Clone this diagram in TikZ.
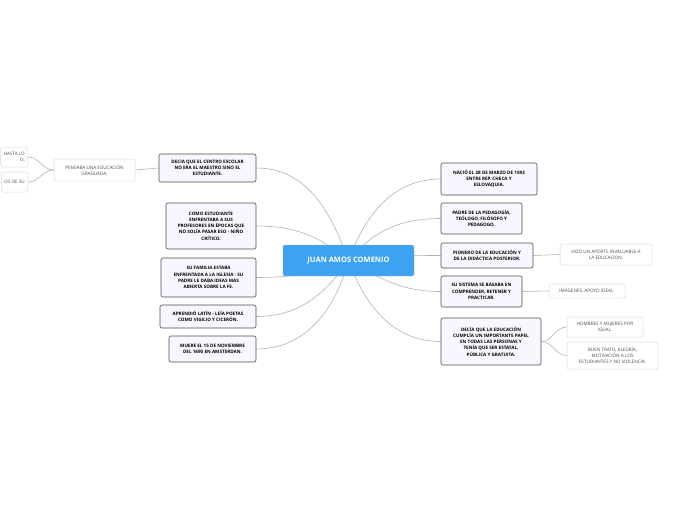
\documentclass[tikz,border=0pt]{standalone}
\usepackage{fontspec}
\setmainfont{Open Sans}
\usetikzlibrary{backgrounds}
\definecolor{cblue}{HTML}{3CA3F2}
\begin{document}
\begin{tikzpicture}[x=1pt,y=-1pt,
 main/.style={draw=black!70,line width=0.6pt,rounded corners=2pt,fill=blue!3,align=center,font=\fontsize{4.6}{6.2}\selectfont\bfseries,inner sep=1pt},
 sub/.style={draw=black!15,line width=0.5pt,rounded corners=2pt,fill=white,align=center,font=\fontsize{4.6}{6.2}\selectfont,text=black!70,inner sep=1pt},
 con/.style={draw=black!30,line width=0.6pt}]
\useasboundingbox (0,0) rectangle (697,520);
\clip (0,0) rectangle (697,520);
\node[fill=cblue,draw=black!30,rounded corners=2pt,minimum width=131,minimum height=31,text=white,font=\fontsize{7.5}{9}\selectfont\bfseries] (c) at (348.5,260.5) {JUAN AMOS COMENIO};
% left
\node[main,minimum width=97,minimum height=28] (l1) at (207.5,168) {DECIA QUE EL CENTRO ESCOLAR\\NO ERA EL MAESTRO SINO EL\\ESTUDIANTE.};
\node[main,minimum width=90,minimum height=46] (l2) at (211,226) {COMO ESTUDIANTE\\ENFRENTABA A SUS\\PROFESORES EN ÉPOCAS QUE\\NO SOLÍA PASAR ESO - NIÑO\\CRÍTICO.};
\node[main,minimum width=95,minimum height=39] (l3) at (208.5,277.5) {SU FAMILIA ESTABA\\ENFRENTADA A LA IGLESIA - SU\\PADRE LE DABA IDEAS MAS\\ABIERTA SOBRE LA FE.};
\node[main,minimum width=96,minimum height=23] (l4) at (208,316.5) {APRENDIÓ LATÍN - LEÍA POETAS\\COMO VIGILIO Y CICERÓN.};
\node[main,minimum width=87,minimum height=26] (l5) at (212.5,349) {MUERE EL 15 DE NOVIEMBRE\\DEL 1690 EN AMSTERDAN.};
\node[sub,minimum width=81,minimum height=22] (p) at (94.5,170) {PENSABA UNA EDUCACIÓN\\GRADUADA.};
\node[sub,minimum height=20,inner xsep=3pt,anchor=east,align=right] (q1) at (28,157) {HASTA LO\\O.};
\node[sub,minimum height=20,inner xsep=3pt,anchor=east,align=right] (q2) at (28,182) {OS DE SU};
% right
\node[main,minimum width=96,minimum height=32] (r1) at (489,179) {NACIÓ EL 28 DE MARZO DE 1592\\ENTRE REP. CHECA Y\\ESLOVAQUIA.};
\node[main,minimum width=81,minimum height=31] (r2) at (481.5,218.5) {PADRE DE LA PEDAGOGÍA,\\TEÓLOGO, FILÓSOFO Y\\PEDAGOGO.};
\node[main,minimum width=92,minimum height=25] (r3) at (487,255.5) {PIONERO DE LA EDUCACIÓN Y\\DE LA DIDÁCTICA POSTERIOR.};
\node[main,minimum width=81,minimum height=31] (r4) at (481.5,291.5) {SU SISTEMA SE BASABA EN\\COMPRENDER, RETENER Y\\PRACTICAR.};
\node[main,minimum width=100,minimum height=47] (r5) at (491,341.5) {DECÍA QUE LA EDUCACIÓN\\CUMPLÍA UN IMPORTANTE PAPEL\\EN TODAS LAS PERSONAS Y\\TENÍA QUE SER ESTATAL,\\PÚBLICA Y GRATUITA.};
\node[sub,minimum width=92,minimum height=21] (s1) at (606,254.5) {HIZO UN APORTE INVALUABLE A\\LA EDUCACION.};
\node[sub,minimum width=76,minimum height=14] (s2) at (587,291) {IMÁGENES, APOYO IDEAL.};
\node[sub,minimum width=76,minimum height=20] (s3) at (605,327) {HOMBRES Y MUJERES POR\\IGUAL.};
\node[sub,minimum width=91,minimum height=27] (s4) at (612.5,355.5) {BUEN TRATO, ALEGRÍA,\\MOTIVACIÓN A LOS\\ESTUDIANTES Y NO VIOLENCIA.};
\begin{scope}[on background layer]
\draw[con] (c.center) to[out=110,in=0] (l1.east);
\draw[con] (c.center) to[out=140,in=0] (l2.east);
\draw[con] (c.center) to[out=200,in=0] (l3.east);
\draw[con] (c.center) to[out=235,in=0] (l4.east);
\draw[con] (c.center) to[out=255,in=0] (l5.east);
\draw[con] (c.center) to[out=70,in=180] (r1.west);
\draw[con] (c.center) to[out=50,in=180] (r2.west);
\draw[con] (c.center) to[out=10,in=180] (r3.west);
\draw[con] (c.center) to[out=-30,in=180] (r4.west);
\draw[con] (c.center) to[out=-70,in=180] (r5.west);
\draw[con] (l1.west) -- (p.east);
\draw[con] (p.west) to[out=180,in=0] (q1.east);
\draw[con] (p.west) to[out=180,in=0] (q2.east);
\draw[con] (r3.east) -- (s1.west);
\draw[con] (r4.east) -- (s2.west);
\draw[con] (r5.east) to[out=0,in=180] (s3.west);
\draw[con] (r5.east) to[out=0,in=180] (s4.west);
\end{scope}
\end{tikzpicture}
\end{document}
